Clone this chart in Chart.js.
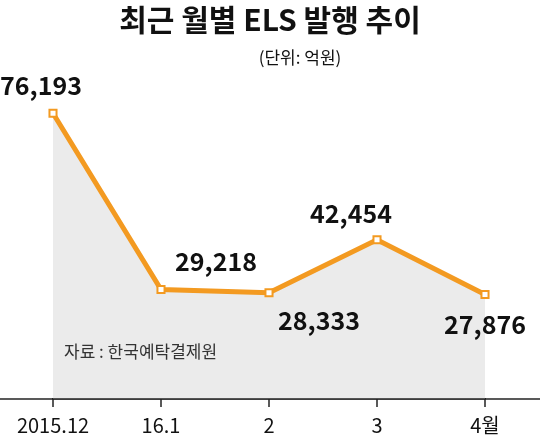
<!DOCTYPE html>
<html><head><meta charset="utf-8">
<script src="https://cdn.jsdelivr.net/npm/chart.js@4/dist/chart.umd.min.js"></script>
<style>html,body{margin:0;background:#fff}#wrap{width:540px;height:443px}</style>
</head><body><div id="wrap"><canvas id="c"></canvas></div>
<script>
const categories = ['2015.12', '16.1', '2', '3', '4월'];
const issuance = [76193, 29218, 28333, 42454, 27876];
const labelText = ['76,193', '29,218', '28,333', '42,454', '27,876'];
// label offsets from each point (dx, dy)
const labelOffset = [[-12, -28], [55, -28], [50, 28], [-26, -26], [0, 30]];

const FONT = '"Noto Sans CJK KR", sans-serif';

const overlay = {
  id: 'overlay',
  afterDatasetsDraw(chart) {
    const c = chart.ctx, x = chart.scales.x, y = chart.scales.y;
    c.save();
    c.fillStyle = '#111';
    c.textAlign = 'center';
    c.textBaseline = 'middle';
    c.font = 'bold 30px ' + FONT;
    c.fillText('최근 월별 ELS 발행 추이', 270, 20);
    c.font = '17px ' + FONT;
    c.fillText('(단위: 억원)', 300, 58);
    c.font = 'bold 25px "Liberation Sans Narrow", ' + FONT;
    issuance.forEach((v, i) => {
      c.fillText(labelText[i], x.getPixelForValue(i) + labelOffset[i][0], y.getPixelForValue(v) + labelOffset[i][1]);
    });
    c.textAlign = 'left';
    c.font = '17px ' + FONT;
    c.fillStyle = '#333';
    c.fillText('자료 : 한국예탁결제원', 64, 352);
    c.restore();
  }
};

new Chart(document.getElementById('c'), {
  type: 'line',
  data: {
    labels: categories,
    datasets: [{
      data: issuance,
      borderColor: '#f39a21',
      borderWidth: 5,
      backgroundColor: '#ebebeb',
      fill: 'origin',
      tension: 0,
      pointStyle: 'rect',
      pointRadius: 5,
      pointBorderWidth: 2,
      pointBackgroundColor: '#fff',
      pointBorderColor: '#f39a21'
    }]
  },
  options: {
    responsive: true,
    maintainAspectRatio: false,
    animation: false,
    layout: { padding: { left: 53, right: 55, top: 99, bottom: 0 } },
    plugins: { legend: { display: false }, tooltip: { enabled: false } },
    scales: {
      x: {
        offset: false,
        grid: { display: false, drawOnChartArea: false },
        border: { display: true, color: '#222', width: 1.5 },
        ticks: { color: '#111', font: { size: 20, family: FONT }, padding: 6 }
      },
      y: {
        display: false,
        min: 0,
        max: 80000
      }
    }
  },
  plugins: [overlay, {
    id: 'ticks',
    afterDraw(chart) {
      const c = chart.ctx, x = chart.scales.x, b = chart.chartArea.bottom;
      c.save(); c.strokeStyle = '#222'; c.lineWidth = 1.5;
      c.beginPath(); c.moveTo(0, b); c.lineTo(540, b); c.stroke();
      categories.forEach((_, i) => {
        const px = x.getPixelForValue(i);
        c.beginPath(); c.moveTo(px, b); c.lineTo(px, b + 8); c.stroke();
      });
      c.restore();
    }
  }]
});
</script></body></html>
